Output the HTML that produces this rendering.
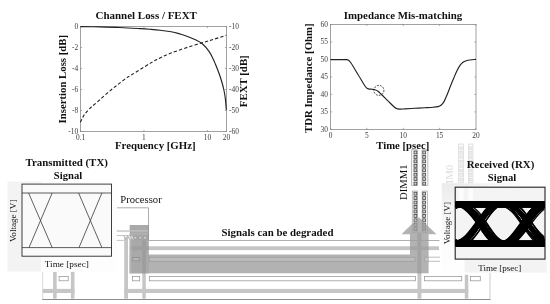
<!DOCTYPE html>
<html lang="en"><head><meta charset="utf-8"><title>Signal integrity overview</title>
<style>
html,body{margin:0;padding:0;background:#fff;}
body{width:550px;height:304px;overflow:hidden;font-family:'Liberation Serif', serif;}
svg{display:block;}
svg text{font-family:'Liberation Serif', serif;}
</style></head>
<body>
<svg width="550" height="304" viewBox="0 0 550 304">
<rect x="0" y="0" width="550" height="304" fill="#ffffff"/>
<g id="board">
<rect x="53.10" y="272.00" width="3.60" height="26.70" fill="#c6c6c6" stroke="none" stroke-width="0.8" />
<rect x="70.90" y="272.00" width="3.60" height="26.70" fill="#c6c6c6" stroke="none" stroke-width="0.8" />
<rect x="124.20" y="237.00" width="3.80" height="61.70" fill="#c6c6c6" stroke="none" stroke-width="0.8" />
<rect x="142.30" y="237.00" width="3.50" height="61.70" fill="#c6c6c6" stroke="none" stroke-width="0.8" />
<rect x="417.50" y="273.00" width="3.90" height="25.70" fill="#c6c6c6" stroke="none" stroke-width="0.8" />
<rect x="464.80" y="274.70" width="3.50" height="24.00" fill="#c6c6c6" stroke="none" stroke-width="0.8" />
<rect x="42.70" y="288.90" width="31.80" height="4.10" fill="#c6c6c6" stroke="none" stroke-width="0.8" />
<rect x="124.20" y="288.90" width="344.10" height="4.10" fill="#c6c6c6" stroke="none" stroke-width="0.8" />
<line x1="42.70" y1="272.00" x2="42.70" y2="299.30" stroke="#d0d0d0" stroke-width="0.8" />
<line x1="490.00" y1="272.00" x2="490.00" y2="299.30" stroke="#bdbdbd" stroke-width="0.8" />
<line x1="42.30" y1="299.50" x2="490.40" y2="299.50" stroke="#8c8c8c" stroke-width="1.2" />
<line x1="148.80" y1="240.50" x2="439.50" y2="240.50" stroke="#9a9a9a" stroke-width="0.8" />
<rect x="148.80" y="246.30" width="290.20" height="3.80" fill="#c4c4c4" stroke="none" stroke-width="0.8" />
<rect x="129.70" y="254.50" width="280.40" height="18.80" fill="#b2b2b2" stroke="none" stroke-width="0.8" />
<rect x="129.70" y="225.00" width="19.10" height="48.30" fill="#a9a9a9" stroke="none" stroke-width="0.8" />
<rect x="129.70" y="230.10" width="19.10" height="1.60" fill="#bdbdbd" stroke="none" stroke-width="0.8" />
<rect x="129.70" y="233.00" width="19.10" height="1.30" fill="#b2b2b2" stroke="none" stroke-width="0.8" />
<rect x="142.30" y="240.50" width="3.50" height="32.80" fill="#9d9d9d" stroke="none" stroke-width="0.8" />
<rect x="129.70" y="246.30" width="19.10" height="3.80" fill="#a0a0a0" stroke="none" stroke-width="0.8" />
<rect x="129.70" y="237.00" width="1.70" height="36.30" fill="#b4b4b4" stroke="none" stroke-width="0.8" />
<rect x="134.00" y="236.20" width="2.60" height="2.80" fill="#d2d2d2" stroke="#8a8a8a" stroke-width="0.5" />
<rect x="139.00" y="236.20" width="2.60" height="2.80" fill="#d2d2d2" stroke="#8a8a8a" stroke-width="0.5" />
<rect x="143.90" y="236.20" width="2.60" height="2.80" fill="#d2d2d2" stroke="#8a8a8a" stroke-width="0.5" />
<path d="M123.8,235.6 L125.6,239.8 L127.6,235.8 L129.6,239.8 L131.6,235.8 L133.2,239.4" fill="none" stroke="#e8e8e8" stroke-width="0.9"/>
<path d="M123.8,235.6 L125.6,239.8 L127.6,235.8 L129.6,239.8" fill="none" stroke="#8a8a8a" stroke-width="0.5"/>
<rect x="132.40" y="257.50" width="7.30" height="3.30" fill="#b4b4b4" stroke="#8c8c8c" stroke-width="0.7" />
<rect x="59.10" y="276.60" width="9.10" height="4.20" fill="#fff" stroke="#969696" stroke-width="0.75" />
<rect x="132.40" y="276.60" width="7.30" height="4.20" fill="#fff" stroke="#969696" stroke-width="0.75" />
<rect x="149.30" y="276.60" width="266.30" height="4.20" fill="#fff" stroke="#969696" stroke-width="0.75" />
<rect x="424.50" y="276.60" width="37.20" height="4.20" fill="#fff" stroke="#969696" stroke-width="0.75" />
<rect x="470.50" y="276.60" width="9.80" height="4.20" fill="#fff" stroke="#969696" stroke-width="0.75" />
<rect x="116.60" y="230.20" width="13.40" height="1.70" fill="#cfcfcf" stroke="none" stroke-width="0.8" />
<line x1="116.60" y1="235.50" x2="130.00" y2="235.50" stroke="#aaa" stroke-width="0.7" />
<line x1="116.60" y1="240.40" x2="124.00" y2="240.40" stroke="#aaa" stroke-width="0.7" />
<path d="M116.9,207.8 H148.5 V240.4" fill="none" stroke="#8a8a8a" stroke-width="0.7"/>
</g>
<g id="dimm0" opacity="0.9">
<rect x="458.60" y="144.00" width="4.90" height="43.00" fill="#fafafa" stroke="#cdcdcd" stroke-width="0.6" />
<rect x="459.85" y="147.00" width="2.40" height="2.70" fill="#f0f0f0" stroke="#cccccc" stroke-width="0.5" />
<rect x="459.85" y="151.45" width="2.40" height="2.70" fill="#f0f0f0" stroke="#cccccc" stroke-width="0.5" />
<rect x="459.85" y="155.90" width="2.40" height="2.70" fill="#f0f0f0" stroke="#cccccc" stroke-width="0.5" />
<rect x="459.85" y="160.35" width="2.40" height="2.70" fill="#f0f0f0" stroke="#cccccc" stroke-width="0.5" />
<rect x="459.85" y="164.80" width="2.40" height="2.70" fill="#f0f0f0" stroke="#cccccc" stroke-width="0.5" />
<rect x="459.85" y="169.25" width="2.40" height="2.70" fill="#f0f0f0" stroke="#cccccc" stroke-width="0.5" />
<rect x="459.85" y="173.70" width="2.40" height="2.70" fill="#f0f0f0" stroke="#cccccc" stroke-width="0.5" />
<rect x="459.85" y="178.15" width="2.40" height="2.70" fill="#f0f0f0" stroke="#cccccc" stroke-width="0.5" />
<rect x="459.85" y="182.60" width="2.40" height="2.70" fill="#f0f0f0" stroke="#cccccc" stroke-width="0.5" />
<rect x="468.50" y="144.00" width="4.50" height="43.00" fill="#fafafa" stroke="#cdcdcd" stroke-width="0.6" />
<rect x="469.55" y="147.00" width="2.40" height="2.70" fill="#f0f0f0" stroke="#cccccc" stroke-width="0.5" />
<rect x="469.55" y="151.45" width="2.40" height="2.70" fill="#f0f0f0" stroke="#cccccc" stroke-width="0.5" />
<rect x="469.55" y="155.90" width="2.40" height="2.70" fill="#f0f0f0" stroke="#cccccc" stroke-width="0.5" />
<rect x="469.55" y="160.35" width="2.40" height="2.70" fill="#f0f0f0" stroke="#cccccc" stroke-width="0.5" />
<rect x="469.55" y="164.80" width="2.40" height="2.70" fill="#f0f0f0" stroke="#cccccc" stroke-width="0.5" />
<rect x="469.55" y="169.25" width="2.40" height="2.70" fill="#f0f0f0" stroke="#cccccc" stroke-width="0.5" />
<rect x="469.55" y="173.70" width="2.40" height="2.70" fill="#f0f0f0" stroke="#cccccc" stroke-width="0.5" />
<rect x="469.55" y="178.15" width="2.40" height="2.70" fill="#f0f0f0" stroke="#cccccc" stroke-width="0.5" />
<rect x="469.55" y="182.60" width="2.40" height="2.70" fill="#f0f0f0" stroke="#cccccc" stroke-width="0.5" />
<text x="453.00" y="182.80" font-size="10.9" text-anchor="middle" fill="#dadada" transform="rotate(-90 453.00 182.80)" textLength="36.00" lengthAdjust="spacingAndGlyphs" >DIMM0</text>
</g>
<g id="dimm1">
<rect x="411.40" y="149.80" width="5.90" height="35.80" fill="#f4f4f4" stroke="#9c9c9c" stroke-width="0.6" />
<rect x="414.00" y="151.00" width="2.80" height="2.90" fill="#d4d4d4" stroke="#3c3c3c" stroke-width="0.75" />
<rect x="414.00" y="155.45" width="2.80" height="2.90" fill="#d4d4d4" stroke="#3c3c3c" stroke-width="0.75" />
<rect x="414.00" y="159.90" width="2.80" height="2.90" fill="#d4d4d4" stroke="#3c3c3c" stroke-width="0.75" />
<rect x="414.00" y="164.35" width="2.80" height="2.90" fill="#d4d4d4" stroke="#3c3c3c" stroke-width="0.75" />
<rect x="414.00" y="168.80" width="2.80" height="2.90" fill="#d4d4d4" stroke="#3c3c3c" stroke-width="0.75" />
<rect x="414.00" y="173.25" width="2.80" height="2.90" fill="#d4d4d4" stroke="#3c3c3c" stroke-width="0.75" />
<rect x="414.00" y="177.70" width="2.80" height="2.90" fill="#d4d4d4" stroke="#3c3c3c" stroke-width="0.75" />
<rect x="414.00" y="182.15" width="2.80" height="2.90" fill="#d4d4d4" stroke="#3c3c3c" stroke-width="0.75" />
<rect x="422.00" y="149.80" width="5.90" height="35.80" fill="#f4f4f4" stroke="#9c9c9c" stroke-width="0.6" />
<rect x="422.80" y="151.00" width="2.70" height="2.90" fill="#d4d4d4" stroke="#3c3c3c" stroke-width="0.75" />
<rect x="422.80" y="155.45" width="2.70" height="2.90" fill="#d4d4d4" stroke="#3c3c3c" stroke-width="0.75" />
<rect x="422.80" y="159.90" width="2.70" height="2.90" fill="#d4d4d4" stroke="#3c3c3c" stroke-width="0.75" />
<rect x="422.80" y="164.35" width="2.70" height="2.90" fill="#d4d4d4" stroke="#3c3c3c" stroke-width="0.75" />
<rect x="422.80" y="168.80" width="2.70" height="2.90" fill="#d4d4d4" stroke="#3c3c3c" stroke-width="0.75" />
<rect x="422.80" y="173.25" width="2.70" height="2.90" fill="#d4d4d4" stroke="#3c3c3c" stroke-width="0.75" />
<rect x="422.80" y="177.70" width="2.70" height="2.90" fill="#d4d4d4" stroke="#3c3c3c" stroke-width="0.75" />
<rect x="422.80" y="182.15" width="2.70" height="2.90" fill="#d4d4d4" stroke="#3c3c3c" stroke-width="0.75" />
<rect x="412.20" y="191.00" width="5.20" height="41.50" fill="#f4f4f4" stroke="#9c9c9c" stroke-width="0.6" />
<rect x="414.00" y="192.20" width="2.80" height="2.90" fill="#d4d4d4" stroke="#3c3c3c" stroke-width="0.75" />
<rect x="414.00" y="196.65" width="2.80" height="2.90" fill="#d4d4d4" stroke="#3c3c3c" stroke-width="0.75" />
<rect x="414.00" y="201.10" width="2.80" height="2.90" fill="#d4d4d4" stroke="#3c3c3c" stroke-width="0.75" />
<rect x="414.00" y="205.55" width="2.80" height="2.90" fill="#d4d4d4" stroke="#3c3c3c" stroke-width="0.75" />
<rect x="414.00" y="210.00" width="2.80" height="2.90" fill="#d4d4d4" stroke="#3c3c3c" stroke-width="0.75" />
<rect x="414.00" y="214.45" width="2.80" height="2.90" fill="#d4d4d4" stroke="#3c3c3c" stroke-width="0.75" />
<rect x="414.00" y="218.90" width="2.80" height="2.90" fill="#d4d4d4" stroke="#3c3c3c" stroke-width="0.75" />
<rect x="414.00" y="223.35" width="2.80" height="2.90" fill="#d4d4d4" stroke="#3c3c3c" stroke-width="0.75" />
<rect x="414.00" y="227.80" width="2.80" height="2.90" fill="#d4d4d4" stroke="#3c3c3c" stroke-width="0.75" />
<rect x="422.10" y="191.00" width="5.50" height="41.50" fill="#f4f4f4" stroke="#9c9c9c" stroke-width="0.6" />
<rect x="422.80" y="192.20" width="2.70" height="2.90" fill="#d4d4d4" stroke="#3c3c3c" stroke-width="0.75" />
<rect x="422.80" y="196.65" width="2.70" height="2.90" fill="#d4d4d4" stroke="#3c3c3c" stroke-width="0.75" />
<rect x="422.80" y="201.10" width="2.70" height="2.90" fill="#d4d4d4" stroke="#3c3c3c" stroke-width="0.75" />
<rect x="422.80" y="205.55" width="2.70" height="2.90" fill="#d4d4d4" stroke="#3c3c3c" stroke-width="0.75" />
<rect x="422.80" y="210.00" width="2.70" height="2.90" fill="#d4d4d4" stroke="#3c3c3c" stroke-width="0.75" />
<rect x="422.80" y="214.45" width="2.70" height="2.90" fill="#d4d4d4" stroke="#3c3c3c" stroke-width="0.75" />
<rect x="422.80" y="218.90" width="2.70" height="2.90" fill="#d4d4d4" stroke="#3c3c3c" stroke-width="0.75" />
<rect x="422.80" y="223.35" width="2.70" height="2.90" fill="#d4d4d4" stroke="#3c3c3c" stroke-width="0.75" />
<rect x="422.80" y="227.80" width="2.70" height="2.90" fill="#d4d4d4" stroke="#3c3c3c" stroke-width="0.75" />
</g>
<path d="M418.9,217.2 L436.4,234.2 L428.6,234.2 L428.6,273.3 L410.0,273.3 L410.0,234.2 L401.5,234.2 Z" fill="#9f9f9f" fill-opacity="0.8"/>
<rect x="417.40" y="232.50" width="3.90" height="40.80" fill="#a3a3a3" stroke="none" stroke-width="0.8" />
<rect x="149.30" y="257.20" width="265.70" height="4.10" fill="#bcbcbc" stroke="#9a9a9a" stroke-width="0.7" />
<rect x="424.60" y="257.20" width="4.00" height="4.10" fill="#c2c2c2" stroke="none" stroke-width="0.8" />
<line x1="424.60" y1="257.20" x2="440.00" y2="257.20" stroke="#a0a0a0" stroke-width="0.7" />
<line x1="424.60" y1="261.30" x2="440.00" y2="261.30" stroke="#a0a0a0" stroke-width="0.7" />
<line x1="424.60" y1="257.20" x2="424.60" y2="261.30" stroke="#a0a0a0" stroke-width="0.7" />
<g id="tx">
<rect x="7.50" y="181.50" width="109.00" height="90.50" fill="#fdfdfd" stroke="none" stroke-width="0.8" />
<rect x="7.50" y="181.50" width="33.50" height="89.90" fill="#f3f3f3" stroke="none" stroke-width="0.8" />
<rect x="22.00" y="184.10" width="89.50" height="72.10" fill="#fafafa" stroke="#2a2a2a" stroke-width="0.9" />
<line x1="22.00" y1="193.00" x2="111.50" y2="193.00" stroke="#333" stroke-width="0.8" />
<line x1="22.00" y1="247.60" x2="111.50" y2="247.60" stroke="#333" stroke-width="0.8" />
<line x1="28.60" y1="193.00" x2="52.20" y2="247.60" stroke="#3a3a3a" stroke-width="0.8" />
<line x1="52.20" y1="193.00" x2="29.00" y2="247.60" stroke="#3a3a3a" stroke-width="0.8" />
<line x1="78.60" y1="193.00" x2="101.90" y2="247.60" stroke="#3a3a3a" stroke-width="0.8" />
<line x1="101.90" y1="193.00" x2="79.00" y2="247.60" stroke="#3a3a3a" stroke-width="0.8" />
</g>
<g id="rx">
<rect x="441.80" y="183.30" width="108.20" height="89.30" fill="#fefefe" stroke="none" stroke-width="0.8" />
<defs><linearGradient id="rxg" x1="0" y1="0" x2="0" y2="1"><stop offset="0" stop-color="#ececec"/><stop offset="0.6" stop-color="#fbfbfb"/><stop offset="1" stop-color="#fefefe"/></linearGradient><linearGradient id="rxh" x1="0" y1="0" x2="1" y2="0"><stop offset="0" stop-color="#ececec"/><stop offset="0.25" stop-color="#ededed"/><stop offset="1" stop-color="#fdfdfd"/></linearGradient></defs>
<rect x="441.80" y="183.30" width="13.40" height="88.70" fill="url(#rxg)" stroke="none" stroke-width="0.8" />
<rect x="441.80" y="183.30" width="78.20" height="3.90" fill="url(#rxh)" stroke="none" stroke-width="0.8" />
<rect x="464.50" y="259.00" width="82.10" height="13.60" fill="#f3f3f3" stroke="none" stroke-width="0.8" />
<rect x="455.20" y="187.20" width="89.80" height="71.90" fill="#f4f4f4" stroke="#222" stroke-width="1.1" />
<rect x="458.60" y="188.00" width="4.90" height="12.50" fill="#fcfcfc" stroke="none" stroke-width="0.8" />
<rect x="468.50" y="188.00" width="4.50" height="12.50" fill="#fcfcfc" stroke="none" stroke-width="0.8" />
<clipPath id="rxc"><rect x="455.7" y="187.6" width="88.8" height="71"/></clipPath>
<g clip-path="url(#rxc)" fill="none" stroke="#000" stroke-linecap="round">
<path d="M369.08,202.58 L413.78,202.58 C429.34,202.58 442.93,244.38 458.48,244.38 L503.18,244.38" stroke-width="1.25"/>
<path d="M371.33,203.70 L416.03,203.70 C433.72,203.70 443.04,241.30 460.73,241.30 L505.43,241.30" stroke-width="1.25"/>
<path d="M366.05,204.05 L410.75,204.05 C426.39,204.05 439.80,241.36 455.45,241.36 L500.15,241.36" stroke-width="1.25"/>
<path d="M370.15,206.10 L414.85,206.10 C431.15,206.10 443.25,241.64 459.55,241.64 L504.25,241.64" stroke-width="1.25"/>
<path d="M372.30,206.73 L417.00,206.73 C434.15,206.73 444.55,244.00 461.70,244.00 L506.40,244.00" stroke-width="1.25"/>
<path d="M376.00,202.04 L420.70,202.04 C437.32,202.04 448.78,245.46 465.40,245.46 L510.10,245.46" stroke-width="1.25"/>
<path d="M367.18,202.41 L411.88,202.41 C431.09,202.41 437.37,242.60 456.58,242.60 L501.28,242.60" stroke-width="1.25"/>
<path d="M367.57,204.82 L412.27,204.82 C429.29,204.82 439.94,244.32 456.97,244.32 L501.67,244.32" stroke-width="1.25"/>
<path d="M371.46,202.13 L416.16,202.13 C432.37,202.13 444.65,241.31 460.86,241.31 L505.56,241.31" stroke-width="1.25"/>
<path d="M372.86,204.02 L417.56,204.02 C435.64,204.02 444.19,242.63 462.26,242.63 L506.96,242.63" stroke-width="1.25"/>
<path d="M370.45,203.36 L415.15,203.36 C433.79,203.36 441.22,245.13 459.85,245.13 L504.55,245.13" stroke-width="1.25"/>
<path d="M368.24,204.79 L412.94,204.79 C432.44,204.79 438.14,243.73 457.64,243.73 L502.34,243.73" stroke-width="1.25"/>
<path d="M373.38,203.30 L418.08,203.30 C433.86,203.30 447.00,246.10 462.78,246.10 L507.48,246.10" stroke-width="1.25"/>
<path d="M370.08,205.74 L414.78,205.74 C432.38,205.74 441.88,241.79 459.48,241.79 L504.18,241.79" stroke-width="1.25"/>
<path d="M366.07,205.27 L410.77,205.27 C428.78,205.27 437.45,244.98 455.47,244.98 L500.17,244.98" stroke-width="1.25"/>
<path d="M374.93,203.43 L419.63,203.43 C437.75,203.43 446.21,244.62 464.33,244.62 L509.03,244.62" stroke-width="1.25"/>
<path d="M371.80,204.17 L416.50,204.17 C436.34,204.17 441.35,245.37 461.20,245.37 L505.90,245.37" stroke-width="1.25"/>
<path d="M370.68,205.25 L415.38,205.25 C434.02,205.25 441.43,241.32 460.08,241.32 L504.78,241.32" stroke-width="1.25"/>
<path d="M372.51,206.96 L417.21,206.96 C433.81,206.96 445.31,245.27 461.91,245.27 L506.61,245.27" stroke-width="1.25"/>
<path d="M369.74,205.28 L414.44,205.28 C431.91,205.28 441.67,241.12 459.14,241.12 L503.84,241.12" stroke-width="1.25"/>
<path d="M367.43,202.41 L412.13,202.41 C431.11,202.41 437.86,241.31 456.83,241.31 L501.53,241.31" stroke-width="1.25"/>
<path d="M367.02,203.09 L411.72,203.09 C431.20,203.09 436.94,243.03 456.42,243.03 L501.12,243.03" stroke-width="1.25"/>
<path d="M366.50,204.14 L411.20,204.14 C430.75,204.14 436.36,243.86 455.90,243.86 L500.60,243.86" stroke-width="1.25"/>
<path d="M374.33,206.29 L419.03,206.29 C436.27,206.29 446.49,242.45 463.73,242.45 L508.43,242.45" stroke-width="1.25"/>
<path d="M369.45,206.40 L414.15,206.40 C430.09,206.40 442.91,245.98 458.85,245.98 L503.55,245.98" stroke-width="1.25"/>
<path d="M367.52,203.01 L412.22,203.01 C429.80,203.01 439.34,242.21 456.92,242.21 L501.62,242.21" stroke-width="1.25"/>
<path d="M369.69,242.37 L414.39,242.37 C431.65,242.37 441.84,201.82 459.09,201.82 L503.79,201.82" stroke-width="1.25"/>
<path d="M367.36,243.94 L412.06,243.94 C430.66,243.94 438.17,206.76 456.76,206.76 L501.46,206.76" stroke-width="1.25"/>
<path d="M368.91,244.21 L413.61,244.21 C429.08,244.21 442.85,205.32 458.31,205.32 L503.01,205.32" stroke-width="1.25"/>
<path d="M372.99,245.06 L417.69,245.06 C436.81,245.06 443.26,206.35 462.39,206.35 L507.09,206.35" stroke-width="1.25"/>
<path d="M367.61,243.07 L412.31,243.07 C430.63,243.07 438.69,202.34 457.01,202.34 L501.71,202.34" stroke-width="1.25"/>
<path d="M364.11,241.35 L408.81,241.35 C424.81,241.35 437.51,202.89 453.51,202.89 L498.21,202.89" stroke-width="1.25"/>
<path d="M367.05,241.27 L411.75,241.27 C427.70,241.27 440.51,201.80 456.45,201.80 L501.15,201.80" stroke-width="1.25"/>
<path d="M364.53,242.89 L409.23,242.89 C428.72,242.89 434.43,201.93 453.93,201.93 L498.63,201.93" stroke-width="1.25"/>
<path d="M369.96,241.77 L414.66,241.77 C431.57,241.77 442.45,203.11 459.36,203.11 L504.06,203.11" stroke-width="1.25"/>
<path d="M367.31,241.64 L412.01,241.64 C432.09,241.64 436.63,206.21 456.71,206.21 L501.41,206.21" stroke-width="1.25"/>
<path d="M368.39,243.52 L413.09,243.52 C428.79,243.52 442.09,202.25 457.79,202.25 L502.49,202.25" stroke-width="1.25"/>
<path d="M367.08,242.38 L411.78,242.38 C427.77,242.38 440.49,206.11 456.48,206.11 L501.18,206.11" stroke-width="1.25"/>
<path d="M363.69,245.95 L408.39,245.95 C424.31,245.95 437.18,204.55 453.09,204.55 L497.79,204.55" stroke-width="1.25"/>
<path d="M369.21,241.14 L413.91,241.14 C433.92,241.14 438.60,204.55 458.61,204.55 L503.31,204.55" stroke-width="1.25"/>
<path d="M372.60,244.62 L417.30,244.62 C434.30,244.62 445.00,203.16 462.00,203.16 L506.70,203.16" stroke-width="1.25"/>
<path d="M365.22,245.01 L409.92,245.01 C428.95,245.01 435.59,204.57 454.62,204.57 L499.32,204.57" stroke-width="1.25"/>
<path d="M366.94,242.16 L411.64,242.16 C431.69,242.16 436.30,206.02 456.34,206.02 L501.04,206.02" stroke-width="1.25"/>
<path d="M372.49,245.19 L417.19,245.19 C436.02,245.19 443.05,206.06 461.89,206.06 L506.59,206.06" stroke-width="1.25"/>
<path d="M365.85,243.69 L410.55,243.69 C425.89,243.69 439.91,203.65 455.25,203.65 L499.95,203.65" stroke-width="1.25"/>
<path d="M363.75,242.45 L408.45,242.45 C427.05,242.45 434.54,203.15 453.15,203.15 L497.85,203.15" stroke-width="1.25"/>
<path d="M373.59,243.33 L418.29,243.33 C438.35,243.33 442.93,206.67 462.99,206.67 L507.69,206.67" stroke-width="1.25"/>
<path d="M373.57,242.90 L418.27,242.90 C434.59,242.90 446.66,202.95 462.97,202.95 L507.67,202.95" stroke-width="1.25"/>
<path d="M365.54,242.06 L410.24,242.06 C429.86,242.06 435.31,205.05 454.94,205.05 L499.64,205.05" stroke-width="1.25"/>
<path d="M372.36,243.49 L417.06,243.49 C436.19,243.49 442.63,205.20 461.76,205.20 L506.46,205.20" stroke-width="1.25"/>
<path d="M364.35,244.44 L409.05,244.44 C428.09,244.44 434.70,206.53 453.75,206.53 L498.45,206.53" stroke-width="1.25"/>
<path d="M371.40,243.49 L416.10,243.49 C435.18,243.49 441.72,202.73 460.80,202.73 L505.50,202.73" stroke-width="1.25"/>
<path d="M413.87,205.96 L458.57,205.96 C475.72,205.96 486.13,246.05 503.27,246.05 L547.97,246.05" stroke-width="1.25"/>
<path d="M414.60,206.72 L459.30,206.72 C475.34,206.72 487.97,244.77 504.00,244.77 L548.70,244.77" stroke-width="1.25"/>
<path d="M411.70,202.59 L456.40,202.59 C475.56,202.59 481.93,245.71 501.10,245.71 L545.80,245.71" stroke-width="1.25"/>
<path d="M411.90,206.10 L456.60,206.10 C475.03,206.10 482.87,246.10 501.30,246.10 L546.00,246.10" stroke-width="1.25"/>
<path d="M414.06,204.65 L458.76,204.65 C474.03,204.65 488.20,241.68 503.46,241.68 L548.16,241.68" stroke-width="1.25"/>
<path d="M420.64,205.18 L465.34,205.18 C485.13,205.18 490.25,243.74 510.04,243.74 L554.74,243.74" stroke-width="1.25"/>
<path d="M414.95,206.33 L459.65,206.33 C475.88,206.33 488.11,245.30 504.35,245.30 L549.05,245.30" stroke-width="1.25"/>
<path d="M413.02,203.32 L457.72,203.32 C475.80,203.32 484.34,242.25 502.42,242.25 L547.12,242.25" stroke-width="1.25"/>
<path d="M413.10,203.98 L457.80,203.98 C477.47,203.98 482.83,241.68 502.50,241.68 L547.20,241.68" stroke-width="1.25"/>
<path d="M414.10,204.18 L458.80,204.18 C478.44,204.18 483.86,244.03 503.50,244.03 L548.20,244.03" stroke-width="1.25"/>
<path d="M414.81,206.57 L459.51,206.57 C477.32,206.57 486.40,243.61 504.21,243.61 L548.91,243.61" stroke-width="1.25"/>
<path d="M415.90,201.90 L460.60,201.90 C476.70,201.90 489.20,243.29 505.30,243.29 L550.00,243.29" stroke-width="1.25"/>
<path d="M410.39,205.96 L455.09,205.96 C472.62,205.96 482.27,241.90 499.79,241.90 L544.49,241.90" stroke-width="1.25"/>
<path d="M418.04,204.69 L462.74,204.69 C480.48,204.69 489.69,242.70 507.44,242.70 L552.14,242.70" stroke-width="1.25"/>
<path d="M416.24,205.88 L460.94,205.88 C478.89,205.88 487.68,241.55 505.64,241.55 L550.34,241.55" stroke-width="1.25"/>
<path d="M412.98,203.24 L457.68,203.24 C475.38,203.24 484.69,245.02 502.38,245.02 L547.08,245.02" stroke-width="1.25"/>
<path d="M416.30,205.75 L461.00,205.75 C478.38,205.75 488.33,245.74 505.70,245.74 L550.40,245.74" stroke-width="1.25"/>
<path d="M416.84,204.43 L461.54,204.43 C480.15,204.43 487.64,243.66 506.24,243.66 L550.94,243.66" stroke-width="1.25"/>
<path d="M415.14,204.57 L459.84,204.57 C479.67,204.57 484.72,243.49 504.54,243.49 L549.24,243.49" stroke-width="1.25"/>
<path d="M417.76,206.36 L462.46,206.36 C478.94,206.36 490.69,245.90 507.16,245.90 L551.86,245.90" stroke-width="1.25"/>
<path d="M416.28,206.70 L460.98,206.70 C476.85,206.70 489.81,245.37 505.68,245.37 L550.38,245.37" stroke-width="1.25"/>
<path d="M411.64,204.10 L456.34,204.10 C472.72,204.10 484.66,241.38 501.04,241.38 L545.74,241.38" stroke-width="1.25"/>
<path d="M411.13,205.28 L455.83,205.28 C475.43,205.28 480.92,245.08 500.53,245.08 L545.23,245.08" stroke-width="1.25"/>
<path d="M411.99,205.52 L456.69,205.52 C472.59,205.52 485.49,244.43 501.39,244.43 L546.09,244.43" stroke-width="1.25"/>
<path d="M419.71,206.83 L464.41,206.83 C484.29,206.83 489.23,242.14 509.11,242.14 L553.81,242.14" stroke-width="1.25"/>
<path d="M414.57,204.33 L459.27,204.33 C478.56,204.33 484.68,246.15 503.97,246.15 L548.67,246.15" stroke-width="1.25"/>
<path d="M409.86,243.24 L454.56,243.24 C471.43,243.24 482.40,204.48 499.26,204.48 L543.96,204.48" stroke-width="1.25"/>
<path d="M410.22,242.66 L454.92,242.66 C470.22,242.66 484.33,205.56 499.62,205.56 L544.32,205.56" stroke-width="1.25"/>
<path d="M414.02,243.29 L458.72,243.29 C475.55,243.29 486.59,201.89 503.42,201.89 L548.12,201.89" stroke-width="1.25"/>
<path d="M414.76,243.66 L459.46,243.66 C479.51,243.66 484.12,202.13 504.16,202.13 L548.86,202.13" stroke-width="1.25"/>
<path d="M416.51,246.05 L461.21,246.05 C477.71,246.05 489.40,202.34 505.91,202.34 L550.61,202.34" stroke-width="1.25"/>
<path d="M408.57,245.05 L453.27,245.05 C469.10,245.05 482.13,203.21 497.97,203.21 L542.67,203.21" stroke-width="1.25"/>
<path d="M412.63,245.74 L457.33,245.74 C473.80,245.74 485.56,206.06 502.03,206.06 L546.73,206.06" stroke-width="1.25"/>
<path d="M409.73,245.78 L454.43,245.78 C473.08,245.78 480.49,204.77 499.13,204.77 L543.83,204.77" stroke-width="1.25"/>
<path d="M409.10,241.30 L453.80,241.30 C471.09,241.30 481.21,205.38 498.50,205.38 L543.20,205.38" stroke-width="1.25"/>
<path d="M408.92,245.88 L453.62,245.88 C472.76,245.88 479.18,205.10 498.32,205.10 L543.02,205.10" stroke-width="1.25"/>
<path d="M409.04,245.45 L453.74,245.45 C473.18,245.45 479.00,202.15 498.44,202.15 L543.14,202.15" stroke-width="1.25"/>
<path d="M412.96,242.76 L457.66,242.76 C477.41,242.76 482.61,204.68 502.36,204.68 L547.06,204.68" stroke-width="1.25"/>
<path d="M410.99,241.67 L455.69,241.67 C472.06,241.67 484.02,204.54 500.39,204.54 L545.09,204.54" stroke-width="1.25"/>
<path d="M409.31,241.84 L454.01,241.84 C470.20,241.84 482.52,202.06 498.71,202.06 L543.41,202.06" stroke-width="1.25"/>
<path d="M411.46,242.59 L456.16,242.59 C472.78,242.59 484.23,205.75 500.86,205.75 L545.56,205.75" stroke-width="1.25"/>
<path d="M413.45,241.93 L458.15,241.93 C473.44,241.93 487.56,203.60 502.85,203.60 L547.55,203.60" stroke-width="1.25"/>
<path d="M410.80,241.08 L455.50,241.08 C473.41,241.08 482.30,205.61 500.20,205.61 L544.90,205.61" stroke-width="1.25"/>
<path d="M410.16,243.47 L454.86,243.47 C470.58,243.47 483.84,206.66 499.56,206.66 L544.26,206.66" stroke-width="1.25"/>
<path d="M416.83,243.25 L461.53,243.25 C480.83,243.25 486.93,204.37 506.23,204.37 L550.93,204.37" stroke-width="1.25"/>
<path d="M412.32,243.63 L457.02,243.63 C477.05,243.63 481.69,205.38 501.72,205.38 L546.42,205.38" stroke-width="1.25"/>
<path d="M411.78,245.33 L456.48,245.33 C474.81,245.33 482.86,205.47 501.18,205.47 L545.88,205.47" stroke-width="1.25"/>
<path d="M412.44,242.81 L457.14,242.81 C472.98,242.81 486.00,202.08 501.84,202.08 L546.54,202.08" stroke-width="1.25"/>
<path d="M408.90,244.85 L453.60,244.85 C469.60,244.85 482.30,203.13 498.30,203.13 L543.00,203.13" stroke-width="1.25"/>
<path d="M409.05,245.37 L453.75,245.37 C472.24,245.37 479.95,206.33 498.45,206.33 L543.15,206.33" stroke-width="1.25"/>
<path d="M411.14,242.26 L455.84,242.26 C473.30,242.26 483.08,203.32 500.54,203.32 L545.24,203.32" stroke-width="1.25"/>
<path d="M409.82,243.32 L454.52,243.32 C474.45,243.32 479.29,203.17 499.22,203.17 L543.92,203.17" stroke-width="1.25"/>
<path d="M465.36,204.64 L510.06,204.64 C530.01,204.64 534.81,242.27 554.76,242.27 L599.46,242.27" stroke-width="1.25"/>
<path d="M458.33,203.65 L503.03,203.65 C520.11,203.65 530.66,241.01 547.73,241.01 L592.43,241.01" stroke-width="1.25"/>
<path d="M460.08,204.41 L504.78,204.41 C522.46,204.41 531.80,242.05 549.48,242.05 L594.18,242.05" stroke-width="1.25"/>
<path d="M455.10,203.17 L499.80,203.17 C516.96,203.17 527.34,241.47 544.50,241.47 L589.20,241.47" stroke-width="1.25"/>
<path d="M455.49,201.92 L500.19,201.92 C516.53,201.92 528.55,242.58 544.89,242.58 L589.59,242.58" stroke-width="1.25"/>
<path d="M461.26,204.55 L505.96,204.55 C524.39,204.55 532.23,244.90 550.66,244.90 L595.36,244.90" stroke-width="1.25"/>
<path d="M462.64,206.37 L507.34,206.37 C524.14,206.37 535.24,243.03 552.04,243.03 L596.74,243.03" stroke-width="1.25"/>
<path d="M465.49,202.58 L510.19,202.58 C528.55,202.58 536.53,244.77 554.89,244.77 L599.59,244.77" stroke-width="1.25"/>
<path d="M455.51,206.14 L500.21,206.14 C518.50,206.14 526.63,245.64 544.91,245.64 L589.61,245.64" stroke-width="1.25"/>
<path d="M462.83,206.02 L507.53,206.02 C525.30,206.02 534.46,241.72 552.23,241.72 L596.93,241.72" stroke-width="1.25"/>
<path d="M460.40,206.14 L505.10,206.14 C524.36,206.14 530.53,245.18 549.80,245.18 L594.50,245.18" stroke-width="1.25"/>
<path d="M461.24,206.44 L505.94,206.44 C524.55,206.44 532.03,244.55 550.64,244.55 L595.34,244.55" stroke-width="1.25"/>
<path d="M457.49,201.96 L502.19,201.96 C519.16,201.96 529.92,241.69 546.89,241.69 L591.59,241.69" stroke-width="1.25"/>
<path d="M456.16,206.15 L500.86,206.15 C519.15,206.15 527.28,243.90 545.56,243.90 L590.26,243.90" stroke-width="1.25"/>
<path d="M461.69,205.34 L506.39,205.34 C521.60,205.34 535.87,243.54 551.09,243.54 L595.79,243.54" stroke-width="1.25"/>
<path d="M463.51,205.69 L508.21,205.69 C526.04,205.69 535.08,243.62 552.91,243.62 L597.61,243.62" stroke-width="1.25"/>
<path d="M462.04,202.14 L506.74,202.14 C523.18,202.14 535.00,244.83 551.44,244.83 L596.14,244.83" stroke-width="1.25"/>
<path d="M455.84,203.18 L500.54,203.18 C516.75,203.18 529.03,244.79 545.24,244.79 L589.94,244.79" stroke-width="1.25"/>
<path d="M462.89,206.87 L507.59,206.87 C524.67,206.87 535.21,243.57 552.29,243.57 L596.99,243.57" stroke-width="1.25"/>
<path d="M460.13,205.36 L504.83,205.36 C523.06,205.36 531.30,244.99 549.53,244.99 L594.23,244.99" stroke-width="1.25"/>
<path d="M461.86,202.20 L506.56,202.20 C523.01,202.20 534.82,241.77 551.26,241.77 L595.96,241.77" stroke-width="1.25"/>
<path d="M462.93,203.38 L507.63,203.38 C522.89,203.38 537.07,243.95 552.33,243.95 L597.03,243.95" stroke-width="1.25"/>
<path d="M455.69,203.20 L500.39,203.20 C518.99,203.20 526.49,244.49 545.09,244.49 L589.79,244.49" stroke-width="1.25"/>
<path d="M462.21,203.31 L506.91,203.31 C524.40,203.31 534.13,243.69 551.61,243.69 L596.31,243.69" stroke-width="1.25"/>
<path d="M459.99,202.42 L504.69,202.42 C520.87,202.42 533.22,245.65 549.39,245.65 L594.09,245.65" stroke-width="1.25"/>
<path d="M465.42,206.67 L510.12,206.67 C527.57,206.67 537.36,241.09 554.82,241.09 L599.52,241.09" stroke-width="1.25"/>
<path d="M461.54,246.03 L506.24,246.03 C522.76,246.03 534.42,204.14 550.94,204.14 L595.64,204.14" stroke-width="1.25"/>
<path d="M455.07,245.92 L499.77,245.92 C517.83,245.92 526.42,202.90 544.47,202.90 L589.17,202.90" stroke-width="1.25"/>
<path d="M454.35,243.73 L499.05,243.73 C514.90,243.73 527.90,206.75 543.75,206.75 L588.45,206.75" stroke-width="1.25"/>
<path d="M461.54,243.65 L506.24,243.65 C524.90,243.65 532.29,206.41 550.94,206.41 L595.64,206.41" stroke-width="1.25"/>
<path d="M455.30,245.67 L500.00,245.67 C515.32,245.67 529.38,204.33 544.70,204.33 L589.40,204.33" stroke-width="1.25"/>
<path d="M452.89,243.56 L497.59,243.56 C514.27,243.56 525.61,204.14 542.29,204.14 L586.99,204.14" stroke-width="1.25"/>
<path d="M454.34,242.79 L499.04,242.79 C518.37,242.79 524.41,203.44 543.74,203.44 L588.44,203.44" stroke-width="1.25"/>
<path d="M452.87,244.90 L497.57,244.90 C513.36,244.90 526.48,206.16 542.27,206.16 L586.97,206.16" stroke-width="1.25"/>
<path d="M462.67,244.71 L507.37,244.71 C523.99,244.71 535.45,206.49 552.07,206.49 L596.77,206.49" stroke-width="1.25"/>
<path d="M456.80,243.04 L501.50,243.04 C519.59,243.04 528.10,206.99 546.20,206.99 L590.90,206.99" stroke-width="1.25"/>
<path d="M456.67,243.23 L501.37,243.23 C516.81,243.23 530.64,203.23 546.07,203.23 L590.77,203.23" stroke-width="1.25"/>
<path d="M453.93,245.34 L498.63,245.34 C518.43,245.34 523.53,203.29 543.33,203.29 L588.03,203.29" stroke-width="1.25"/>
<path d="M455.49,242.38 L500.19,242.38 C516.32,242.38 528.76,204.46 544.89,204.46 L589.59,204.46" stroke-width="1.25"/>
<path d="M456.81,245.97 L501.51,245.97 C520.70,245.97 527.02,206.40 546.21,206.40 L590.91,206.40" stroke-width="1.25"/>
<path d="M459.54,245.75 L504.24,245.75 C522.14,245.75 531.04,206.69 548.94,206.69 L593.64,206.69" stroke-width="1.25"/>
<path d="M460.48,241.26 L505.18,241.26 C522.59,241.26 532.46,205.61 549.88,205.61 L594.58,205.61" stroke-width="1.25"/>
<path d="M460.83,244.35 L505.53,244.35 C520.97,244.35 534.79,203.29 550.23,203.29 L594.93,203.29" stroke-width="1.25"/>
<path d="M462.67,241.66 L507.37,241.66 C524.26,241.66 535.19,204.26 552.07,204.26 L596.77,204.26" stroke-width="1.25"/>
<path d="M456.01,244.84 L500.71,244.84 C517.18,244.84 528.93,206.88 545.41,206.88 L590.11,206.88" stroke-width="1.25"/>
<path d="M459.80,242.56 L504.50,242.56 C521.64,242.56 532.07,204.70 549.20,204.70 L593.90,204.70" stroke-width="1.25"/>
<path d="M454.62,241.84 L499.32,241.84 C518.98,241.84 524.37,202.88 544.02,202.88 L588.72,202.88" stroke-width="1.25"/>
<path d="M458.12,242.14 L502.82,242.14 C522.92,242.14 527.42,206.51 547.52,206.51 L592.22,206.51" stroke-width="1.25"/>
<path d="M457.62,241.73 L502.32,241.73 C517.96,241.73 531.38,202.80 547.02,202.80 L591.72,202.80" stroke-width="1.25"/>
<path d="M456.47,241.47 L501.17,241.47 C517.64,241.47 529.41,203.04 545.87,203.04 L590.57,203.04" stroke-width="1.25"/>
<path d="M458.89,245.61 L503.59,245.61 C520.82,245.61 531.06,205.70 548.29,205.70 L592.99,205.70" stroke-width="1.25"/>
<path d="M457.24,243.73 L501.94,243.73 C518.80,243.73 529.78,203.76 546.64,203.76 L591.34,203.76" stroke-width="1.25"/>
<path d="M500.41,203.24 L545.11,203.24 C560.92,203.24 573.99,246.03 589.81,246.03 L634.51,246.03" stroke-width="1.25"/>
<path d="M505.09,205.07 L549.79,205.07 C566.05,205.07 578.23,245.49 594.49,245.49 L639.19,245.49" stroke-width="1.25"/>
<path d="M502.62,203.09 L547.32,203.09 C564.71,203.09 574.63,243.08 592.02,243.08 L636.72,243.08" stroke-width="1.25"/>
<path d="M509.86,206.21 L554.56,206.21 C569.87,206.21 583.96,245.54 599.26,245.54 L643.96,245.54" stroke-width="1.25"/>
<path d="M500.09,205.49 L544.79,205.49 C562.32,205.49 571.97,245.66 589.49,245.66 L634.19,245.66" stroke-width="1.25"/>
<path d="M505.97,201.80 L550.67,201.80 C570.43,201.80 575.62,243.04 595.37,243.04 L640.07,243.04" stroke-width="1.25"/>
<path d="M508.50,206.25 L553.20,206.25 C569.62,206.25 581.48,246.06 597.90,246.06 L642.60,246.06" stroke-width="1.25"/>
<path d="M500.91,202.60 L545.61,202.60 C564.16,202.60 571.75,243.72 590.31,243.72 L635.01,243.72" stroke-width="1.25"/>
<path d="M509.73,205.55 L554.43,205.55 C573.39,205.55 580.17,244.37 599.13,244.37 L643.83,244.37" stroke-width="1.25"/>
<path d="M504.60,204.67 L549.30,204.67 C568.34,204.67 574.95,241.21 594.00,241.21 L638.70,241.21" stroke-width="1.25"/>
<path d="M502.22,206.58 L546.92,206.58 C563.61,206.58 574.92,244.36 591.62,244.36 L636.32,244.36" stroke-width="1.25"/>
<path d="M501.11,203.11 L545.81,203.11 C564.44,203.11 571.87,244.31 590.51,244.31 L635.21,244.31" stroke-width="1.25"/>
<path d="M500.94,202.17 L545.64,202.17 C563.70,202.17 572.27,243.73 590.34,243.73 L635.04,243.73" stroke-width="1.25"/>
<path d="M503.86,202.96 L548.56,202.96 C563.81,202.96 578.01,244.13 593.26,244.13 L637.96,244.13" stroke-width="1.25"/>
<path d="M502.95,204.20 L547.65,204.20 C566.01,204.20 573.98,245.99 592.35,245.99 L637.05,245.99" stroke-width="1.25"/>
<path d="M509.12,204.27 L553.82,204.27 C570.23,204.27 582.11,242.22 598.52,242.22 L643.22,242.22" stroke-width="1.25"/>
<path d="M509.93,205.46 L554.63,205.46 C569.94,205.46 584.03,242.60 599.33,242.60 L644.03,242.60" stroke-width="1.25"/>
<path d="M505.03,205.31 L549.73,205.31 C566.20,205.31 577.97,243.18 594.43,243.18 L639.13,243.18" stroke-width="1.25"/>
<path d="M506.82,206.61 L551.52,206.61 C566.89,206.61 580.86,242.18 596.22,242.18 L640.92,242.18" stroke-width="1.25"/>
<path d="M503.33,203.99 L548.03,203.99 C564.21,203.99 576.56,244.55 592.73,244.55 L637.43,244.55" stroke-width="1.25"/>
<path d="M508.20,205.64 L552.90,205.64 C569.11,205.64 581.39,243.63 597.60,243.63 L642.30,243.63" stroke-width="1.25"/>
<path d="M510.03,203.42 L554.73,203.42 C571.06,203.42 583.10,245.26 599.43,245.26 L644.13,245.26" stroke-width="1.25"/>
<path d="M502.10,205.75 L546.80,205.75 C566.68,205.75 571.62,242.53 591.50,242.53 L636.20,242.53" stroke-width="1.25"/>
<path d="M505.01,202.77 L549.71,202.77 C566.95,202.77 577.16,242.16 594.41,242.16 L639.11,242.16" stroke-width="1.25"/>
<path d="M506.80,206.73 L551.50,206.73 C568.63,206.73 579.07,241.76 596.20,241.76 L640.90,241.76" stroke-width="1.25"/>
<path d="M502.01,206.87 L546.71,206.87 C562.16,206.87 575.95,241.74 591.41,241.74 L636.11,241.74" stroke-width="1.25"/>
<path d="M498.19,243.05 L542.89,243.05 C562.43,243.05 568.04,206.47 587.59,206.47 L632.29,206.47" stroke-width="1.25"/>
<path d="M505.32,246.19 L550.02,246.19 C566.83,246.19 577.90,206.64 594.72,206.64 L639.42,206.64" stroke-width="1.25"/>
<path d="M499.52,245.87 L544.22,245.87 C559.57,245.87 573.56,205.68 588.92,205.68 L633.62,205.68" stroke-width="1.25"/>
<path d="M504.59,242.97 L549.29,242.97 C566.12,242.97 577.16,203.74 593.99,203.74 L638.69,203.74" stroke-width="1.25"/>
<path d="M499.34,241.01 L544.04,241.01 C560.97,241.01 571.82,203.25 588.74,203.25 L633.44,203.25" stroke-width="1.25"/>
<path d="M507.68,241.64 L552.38,241.64 C568.60,241.64 580.86,206.81 597.08,206.81 L641.78,206.81" stroke-width="1.25"/>
<path d="M501.33,245.27 L546.03,245.27 C563.35,245.27 573.41,206.07 590.73,206.07 L635.43,206.07" stroke-width="1.25"/>
<path d="M498.07,243.46 L542.77,243.46 C562.49,243.46 567.75,203.74 587.47,203.74 L632.17,203.74" stroke-width="1.25"/>
<path d="M499.60,242.89 L544.30,242.89 C559.64,242.89 573.65,206.46 589.00,206.46 L633.70,206.46" stroke-width="1.25"/>
<path d="M501.90,245.22 L546.60,245.22 C562.00,245.22 575.91,205.79 591.30,205.79 L636.00,205.79" stroke-width="1.25"/>
<path d="M497.92,241.33 L542.62,241.33 C559.08,241.33 570.86,206.58 587.32,206.58 L632.02,206.58" stroke-width="1.25"/>
<path d="M505.47,245.67 L550.17,245.67 C566.71,245.67 578.33,203.56 594.87,203.56 L639.57,203.56" stroke-width="1.25"/>
<path d="M507.70,244.21 L552.40,244.21 C571.12,244.21 578.38,203.16 597.10,203.16 L641.80,203.16" stroke-width="1.25"/>
<path d="M500.90,242.43 L545.60,242.43 C564.52,242.43 571.39,201.82 590.30,201.82 L635.00,201.82" stroke-width="1.25"/>
<path d="M507.26,244.30 L551.96,244.30 C567.28,244.30 581.35,206.70 596.66,206.70 L641.36,206.70" stroke-width="1.25"/>
<path d="M500.03,243.47 L544.73,243.47 C564.62,243.47 569.54,206.78 589.43,206.78 L634.13,206.78" stroke-width="1.25"/>
<path d="M501.65,242.31 L546.35,242.31 C563.97,242.31 573.42,204.04 591.05,204.04 L635.75,204.04" stroke-width="1.25"/>
<path d="M507.39,241.95 L552.09,241.95 C570.92,241.95 577.96,205.97 596.79,205.97 L641.49,205.97" stroke-width="1.25"/>
<path d="M506.27,245.02 L550.97,245.02 C567.78,245.02 578.86,204.96 595.67,204.96 L640.37,204.96" stroke-width="1.25"/>
<path d="M500.94,242.88 L545.64,242.88 C561.22,242.88 574.75,205.87 590.34,205.87 L635.04,205.87" stroke-width="1.25"/>
<path d="M499.64,244.92 L544.34,244.92 C559.86,244.92 573.53,203.09 589.04,203.09 L633.74,203.09" stroke-width="1.25"/>
<path d="M497.91,243.87 L542.61,243.87 C562.63,243.87 567.29,203.49 587.31,203.49 L632.01,203.49" stroke-width="1.25"/>
<path d="M506.91,246.14 L551.61,246.14 C567.23,246.14 580.70,203.18 596.31,203.18 L641.01,203.18" stroke-width="1.25"/>
<path d="M498.57,243.59 L543.27,243.59 C560.67,243.59 570.58,205.49 587.97,205.49 L632.67,205.49" stroke-width="1.25"/>
<path d="M500.03,243.17 L544.73,243.17 C563.25,243.17 570.92,205.03 589.43,205.03 L634.13,205.03" stroke-width="1.25"/>
<path d="M505.48,245.40 L550.18,245.40 C565.97,245.40 579.08,205.26 594.88,205.26 L639.58,205.26" stroke-width="1.25"/>
<path d="M450,201.60 H550" stroke-width="1.1"/>
<path d="M450,202.30 H550" stroke-width="1.1"/>
<path d="M450,203.00 H550" stroke-width="1.1"/>
<path d="M450,203.70 H550" stroke-width="1.1"/>
<path d="M450,204.40 H550" stroke-width="1.1"/>
<path d="M450,205.10 H550" stroke-width="1.1"/>
<path d="M450,205.80 H550" stroke-width="1.1"/>
<path d="M450,206.50 H550" stroke-width="1.1"/>
<path d="M450,207.20 H550" stroke-width="1.1"/>
<path d="M450,240.80 H550" stroke-width="1.1"/>
<path d="M450,241.50 H550" stroke-width="1.1"/>
<path d="M450,242.20 H550" stroke-width="1.1"/>
<path d="M450,242.90 H550" stroke-width="1.1"/>
<path d="M450,243.60 H550" stroke-width="1.1"/>
<path d="M450,244.30 H550" stroke-width="1.1"/>
<path d="M450,245.00 H550" stroke-width="1.1"/>
<path d="M450,245.70 H550" stroke-width="1.1"/>
<path d="M450,246.40 H550" stroke-width="1.1"/>
</g>
</g>
<g id="plot1">
<rect x="80.50" y="26.50" width="146.00" height="105.00" fill="#fff" stroke="#8a8a8a" stroke-width="0.8" />
<line x1="80.50" y1="26.50" x2="82.10" y2="26.50" stroke="#8a8a8a" stroke-width="0.7" />
<line x1="226.50" y1="26.50" x2="224.90" y2="26.50" stroke="#8a8a8a" stroke-width="0.7" />
<text x="78.20" y="28.80" font-size="7.4" text-anchor="end" fill="#3a3a3a" >0</text>
<text x="229.10" y="28.80" font-size="7.4" text-anchor="start" fill="#3a3a3a" >-10</text>
<line x1="80.50" y1="47.50" x2="82.10" y2="47.50" stroke="#8a8a8a" stroke-width="0.7" />
<line x1="226.50" y1="47.50" x2="224.90" y2="47.50" stroke="#8a8a8a" stroke-width="0.7" />
<text x="78.20" y="49.80" font-size="7.4" text-anchor="end" fill="#3a3a3a" >-2</text>
<text x="229.10" y="49.80" font-size="7.4" text-anchor="start" fill="#3a3a3a" >-20</text>
<line x1="80.50" y1="68.50" x2="82.10" y2="68.50" stroke="#8a8a8a" stroke-width="0.7" />
<line x1="226.50" y1="68.50" x2="224.90" y2="68.50" stroke="#8a8a8a" stroke-width="0.7" />
<text x="78.20" y="70.80" font-size="7.4" text-anchor="end" fill="#3a3a3a" >-4</text>
<text x="229.10" y="70.80" font-size="7.4" text-anchor="start" fill="#3a3a3a" >-30</text>
<line x1="80.50" y1="89.50" x2="82.10" y2="89.50" stroke="#8a8a8a" stroke-width="0.7" />
<line x1="226.50" y1="89.50" x2="224.90" y2="89.50" stroke="#8a8a8a" stroke-width="0.7" />
<text x="78.20" y="91.80" font-size="7.4" text-anchor="end" fill="#3a3a3a" >-6</text>
<text x="229.10" y="91.80" font-size="7.4" text-anchor="start" fill="#3a3a3a" >-40</text>
<line x1="80.50" y1="110.50" x2="82.10" y2="110.50" stroke="#8a8a8a" stroke-width="0.7" />
<line x1="226.50" y1="110.50" x2="224.90" y2="110.50" stroke="#8a8a8a" stroke-width="0.7" />
<text x="78.20" y="112.80" font-size="7.4" text-anchor="end" fill="#3a3a3a" >-8</text>
<text x="229.10" y="112.80" font-size="7.4" text-anchor="start" fill="#3a3a3a" >-50</text>
<line x1="80.50" y1="131.50" x2="82.10" y2="131.50" stroke="#8a8a8a" stroke-width="0.7" />
<line x1="226.50" y1="131.50" x2="224.90" y2="131.50" stroke="#8a8a8a" stroke-width="0.7" />
<text x="78.20" y="133.80" font-size="7.4" text-anchor="end" fill="#3a3a3a" >-10</text>
<text x="229.10" y="133.80" font-size="7.4" text-anchor="start" fill="#3a3a3a" >-60</text>
<line x1="80.50" y1="131.50" x2="80.50" y2="129.90" stroke="#8a8a8a" stroke-width="0.7" />
<line x1="80.50" y1="26.50" x2="80.50" y2="28.10" stroke="#8a8a8a" stroke-width="0.7" />
<text x="80.50" y="140.10" font-size="7.4" text-anchor="middle" fill="#3a3a3a" >0.1</text>
<line x1="143.95" y1="131.50" x2="143.95" y2="129.90" stroke="#8a8a8a" stroke-width="0.7" />
<line x1="143.95" y1="26.50" x2="143.95" y2="28.10" stroke="#8a8a8a" stroke-width="0.7" />
<text x="143.95" y="140.10" font-size="7.4" text-anchor="middle" fill="#3a3a3a" >1</text>
<line x1="207.40" y1="131.50" x2="207.40" y2="129.90" stroke="#8a8a8a" stroke-width="0.7" />
<line x1="207.40" y1="26.50" x2="207.40" y2="28.10" stroke="#8a8a8a" stroke-width="0.7" />
<text x="207.40" y="140.10" font-size="7.4" text-anchor="middle" fill="#3a3a3a" >10</text>
<line x1="226.50" y1="131.50" x2="226.50" y2="129.90" stroke="#8a8a8a" stroke-width="0.7" />
<line x1="226.50" y1="26.50" x2="226.50" y2="28.10" stroke="#8a8a8a" stroke-width="0.7" />
<text x="226.50" y="140.10" font-size="7.4" text-anchor="middle" fill="#3a3a3a" >20</text>
<path d="M80.50,26.60 C83.75,26.65 93.42,26.75 100.00,26.90 C106.58,27.05 113.33,27.22 120.00,27.50 C126.67,27.78 135.00,28.30 140.00,28.60 C145.00,28.90 146.67,29.03 150.00,29.30 C153.33,29.57 156.72,29.83 160.00,30.20 C163.28,30.57 166.70,30.97 169.70,31.50 C172.70,32.03 175.37,32.68 178.00,33.40 C180.63,34.12 182.60,34.73 185.50,35.80 C188.40,36.87 192.60,38.48 195.40,39.80 C198.20,41.12 200.00,41.73 202.30,43.70 C204.60,45.67 207.35,48.97 209.20,51.60 C211.05,54.23 212.42,57.53 213.40,59.50 C214.38,61.47 214.17,61.10 215.10,63.40 C216.03,65.70 217.85,70.12 219.00,73.30 C220.15,76.48 221.17,79.63 222.00,82.50 C222.83,85.37 223.43,87.75 224.00,90.50 C224.57,93.25 225.02,95.75 225.40,99.00 C225.78,102.25 226.15,108.17 226.30,110.00" fill="none" stroke="#222" stroke-width="1.15"/>
<path d="M80.40,122.30 C80.98,121.15 82.33,117.70 83.90,115.40 C85.47,113.10 87.50,110.80 89.80,108.50 C92.10,106.20 94.73,104.22 97.70,101.60 C100.67,98.98 104.32,95.58 107.60,92.80 C110.88,90.02 114.12,87.47 117.40,84.90 C120.68,82.33 124.98,79.05 127.30,77.40 C129.62,75.75 127.52,77.33 131.30,75.00 C135.08,72.67 145.73,65.98 150.00,63.40 C154.27,60.82 153.62,61.13 156.90,59.50 C160.18,57.87 164.28,55.73 169.70,53.60 C175.12,51.47 182.82,48.85 189.40,46.70 C195.98,44.55 203.07,42.58 209.20,40.70 C215.33,38.82 223.37,36.28 226.20,35.40" fill="none" stroke="#222" stroke-width="1.1" stroke-dasharray="3.3 2.1"/>
</g>
<g id="plot2">
<rect x="330.50" y="24.40" width="145.50" height="105.00" fill="#fff" stroke="#8a8a8a" stroke-width="0.8" />
<line x1="330.50" y1="24.40" x2="332.10" y2="24.40" stroke="#8a8a8a" stroke-width="0.7" />
<line x1="476.00" y1="24.40" x2="474.40" y2="24.40" stroke="#8a8a8a" stroke-width="0.7" />
<text x="327.90" y="26.70" font-size="7.4" text-anchor="end" fill="#3a3a3a" >60</text>
<line x1="330.50" y1="41.90" x2="332.10" y2="41.90" stroke="#8a8a8a" stroke-width="0.7" />
<line x1="476.00" y1="41.90" x2="474.40" y2="41.90" stroke="#8a8a8a" stroke-width="0.7" />
<text x="327.90" y="44.20" font-size="7.4" text-anchor="end" fill="#3a3a3a" >55</text>
<line x1="330.50" y1="59.40" x2="332.10" y2="59.40" stroke="#8a8a8a" stroke-width="0.7" />
<line x1="476.00" y1="59.40" x2="474.40" y2="59.40" stroke="#8a8a8a" stroke-width="0.7" />
<text x="327.90" y="61.70" font-size="7.4" text-anchor="end" fill="#3a3a3a" >50</text>
<line x1="330.50" y1="76.90" x2="332.10" y2="76.90" stroke="#8a8a8a" stroke-width="0.7" />
<line x1="476.00" y1="76.90" x2="474.40" y2="76.90" stroke="#8a8a8a" stroke-width="0.7" />
<text x="327.90" y="79.20" font-size="7.4" text-anchor="end" fill="#3a3a3a" >45</text>
<line x1="330.50" y1="94.40" x2="332.10" y2="94.40" stroke="#8a8a8a" stroke-width="0.7" />
<line x1="476.00" y1="94.40" x2="474.40" y2="94.40" stroke="#8a8a8a" stroke-width="0.7" />
<text x="327.90" y="96.70" font-size="7.4" text-anchor="end" fill="#3a3a3a" >40</text>
<line x1="330.50" y1="111.90" x2="332.10" y2="111.90" stroke="#8a8a8a" stroke-width="0.7" />
<line x1="476.00" y1="111.90" x2="474.40" y2="111.90" stroke="#8a8a8a" stroke-width="0.7" />
<text x="327.90" y="114.20" font-size="7.4" text-anchor="end" fill="#3a3a3a" >35</text>
<line x1="330.50" y1="129.40" x2="332.10" y2="129.40" stroke="#8a8a8a" stroke-width="0.7" />
<line x1="476.00" y1="129.40" x2="474.40" y2="129.40" stroke="#8a8a8a" stroke-width="0.7" />
<text x="327.90" y="131.70" font-size="7.4" text-anchor="end" fill="#3a3a3a" >30</text>
<line x1="330.50" y1="129.40" x2="330.50" y2="127.80" stroke="#8a8a8a" stroke-width="0.7" />
<line x1="330.50" y1="24.40" x2="330.50" y2="26.00" stroke="#8a8a8a" stroke-width="0.7" />
<text x="330.50" y="138.00" font-size="7.4" text-anchor="middle" fill="#3a3a3a" >0</text>
<line x1="366.88" y1="129.40" x2="366.88" y2="127.80" stroke="#8a8a8a" stroke-width="0.7" />
<line x1="366.88" y1="24.40" x2="366.88" y2="26.00" stroke="#8a8a8a" stroke-width="0.7" />
<text x="366.88" y="138.00" font-size="7.4" text-anchor="middle" fill="#3a3a3a" >5</text>
<line x1="403.25" y1="129.40" x2="403.25" y2="127.80" stroke="#8a8a8a" stroke-width="0.7" />
<line x1="403.25" y1="24.40" x2="403.25" y2="26.00" stroke="#8a8a8a" stroke-width="0.7" />
<text x="403.25" y="138.00" font-size="7.4" text-anchor="middle" fill="#3a3a3a" >10</text>
<line x1="439.62" y1="129.40" x2="439.62" y2="127.80" stroke="#8a8a8a" stroke-width="0.7" />
<line x1="439.62" y1="24.40" x2="439.62" y2="26.00" stroke="#8a8a8a" stroke-width="0.7" />
<text x="439.62" y="138.00" font-size="7.4" text-anchor="middle" fill="#3a3a3a" >15</text>
<line x1="476.00" y1="129.40" x2="476.00" y2="127.80" stroke="#8a8a8a" stroke-width="0.7" />
<line x1="476.00" y1="24.40" x2="476.00" y2="26.00" stroke="#8a8a8a" stroke-width="0.7" />
<text x="476.00" y="138.00" font-size="7.4" text-anchor="middle" fill="#3a3a3a" >20</text>
<path d="M330.50,59.60 C332.08,59.60 337.42,59.60 340.00,59.60 C342.58,59.60 344.58,59.50 346.00,59.60 C347.42,59.70 347.67,59.63 348.50,60.20 C349.33,60.77 349.42,60.62 351.00,63.00 C352.58,65.38 355.83,70.92 358.00,74.50 C360.17,78.08 362.58,82.28 364.00,84.50 C365.42,86.72 365.75,87.07 366.50,87.80 C367.25,88.53 367.58,88.65 368.50,88.90 C369.42,89.15 370.92,89.15 372.00,89.30 C373.08,89.45 374.00,89.47 375.00,89.80 C376.00,90.13 377.00,90.60 378.00,91.30 C379.00,92.00 379.33,92.40 381.00,94.00 C382.67,95.60 385.83,98.77 388.00,100.90 C390.17,103.03 392.58,105.52 394.00,106.80 C395.42,108.08 395.67,108.22 396.50,108.60 C397.33,108.98 397.58,109.05 399.00,109.10 C400.42,109.15 402.33,109.03 405.00,108.90 C407.67,108.77 411.67,108.48 415.00,108.30 C418.33,108.12 422.00,107.97 425.00,107.80 C428.00,107.63 430.83,107.50 433.00,107.30 C435.17,107.10 436.67,106.95 438.00,106.60 C439.33,106.25 440.00,106.03 441.00,105.20 C442.00,104.37 443.00,103.30 444.00,101.60 C445.00,99.90 445.95,97.52 447.00,95.00 C448.05,92.48 449.13,89.42 450.30,86.50 C451.47,83.58 452.85,80.20 454.00,77.50 C455.15,74.80 456.20,72.33 457.20,70.30 C458.20,68.27 459.03,66.65 460.00,65.30 C460.97,63.95 461.93,62.97 463.00,62.20 C464.07,61.43 465.23,61.07 466.40,60.70 C467.57,60.33 468.40,60.22 470.00,60.00 C471.60,59.78 475.00,59.50 476.00,59.40" fill="none" stroke="#222" stroke-width="1.15"/>
<circle cx="378.9" cy="90.4" r="5" fill="none" stroke="#222" stroke-width="0.85" stroke-dasharray="1.8 1.2"/>
</g>
<g id="labels">
<text x="146.20" y="19.20" font-size="11" text-anchor="middle" fill="#111" font-weight="bold" textLength="101.40" lengthAdjust="spacingAndGlyphs" >Channel Loss / FEXT</text>
<text x="403.00" y="19.10" font-size="11" text-anchor="middle" fill="#111" font-weight="bold" textLength="118.40" lengthAdjust="spacingAndGlyphs" >Impedance Mis-matching</text>
<text x="155.30" y="148.60" font-size="10.8" text-anchor="middle" fill="#111" font-weight="bold" textLength="80.60" lengthAdjust="spacingAndGlyphs" >Frequency [GHz]</text>
<text x="402.80" y="148.60" font-size="10.8" text-anchor="middle" fill="#111" font-weight="bold" textLength="53.00" lengthAdjust="spacingAndGlyphs" >Time [psec]</text>
<text x="66.00" y="79.20" font-size="10.8" text-anchor="middle" fill="#111" font-weight="bold" transform="rotate(-90 66.00 79.20)" textLength="88.40" lengthAdjust="spacingAndGlyphs" >Insertion Loss [dB]</text>
<text x="246.60" y="81.20" font-size="10.8" text-anchor="middle" fill="#111" font-weight="bold" transform="rotate(-90 246.60 81.20)" textLength="51.90" lengthAdjust="spacingAndGlyphs" >FEXT [dB]</text>
<text x="312.30" y="78.20" font-size="10.8" text-anchor="middle" fill="#111" font-weight="bold" transform="rotate(-90 312.30 78.20)" textLength="109.70" lengthAdjust="spacingAndGlyphs" >TDR Impedance [Ohm]</text>
<text x="66.70" y="166.30" font-size="10.8" text-anchor="middle" fill="#111" font-weight="bold" textLength="82.40" lengthAdjust="spacingAndGlyphs" >Transmitted (TX)</text>
<text x="68.00" y="179.10" font-size="10.8" text-anchor="middle" fill="#111" font-weight="bold" textLength="28.40" lengthAdjust="spacingAndGlyphs" >Signal</text>
<text x="500.50" y="168.40" font-size="10.9" text-anchor="middle" fill="#111" font-weight="bold" textLength="67.70" lengthAdjust="spacingAndGlyphs" >Received (RX)</text>
<text x="502.00" y="181.00" font-size="10.8" text-anchor="middle" fill="#111" font-weight="bold" textLength="28.50" lengthAdjust="spacingAndGlyphs" >Signal</text>
<text x="277.50" y="235.80" font-size="10.9" text-anchor="middle" fill="#111" font-weight="bold" textLength="112.00" lengthAdjust="spacingAndGlyphs" >Signals can be degraded</text>
<text x="141.00" y="202.80" font-size="10.6" text-anchor="middle" fill="#111" textLength="41.40" lengthAdjust="spacingAndGlyphs" >Processor</text>
<text x="16.20" y="220.80" font-size="9" text-anchor="middle" fill="#111" transform="rotate(-90 16.20 220.80)" textLength="42.50" lengthAdjust="spacingAndGlyphs" >Voltage [V]</text>
<text x="66.80" y="267.00" font-size="9.1" text-anchor="middle" fill="#111" textLength="44.10" lengthAdjust="spacingAndGlyphs" >Time [psec]</text>
<text x="449.80" y="223.10" font-size="9" text-anchor="middle" fill="#111" transform="rotate(-90 449.80 223.10)" textLength="42.50" lengthAdjust="spacingAndGlyphs" >Voltage [V]</text>
<text x="499.80" y="270.50" font-size="9" text-anchor="middle" fill="#111" textLength="43.10" lengthAdjust="spacingAndGlyphs" >Time [psec]</text>
<text x="407.30" y="182.20" font-size="10.9" text-anchor="middle" fill="#111" transform="rotate(-90 407.30 182.20)" textLength="35.60" lengthAdjust="spacingAndGlyphs" >DIMM1</text>
</g>
</svg>
</body></html>
